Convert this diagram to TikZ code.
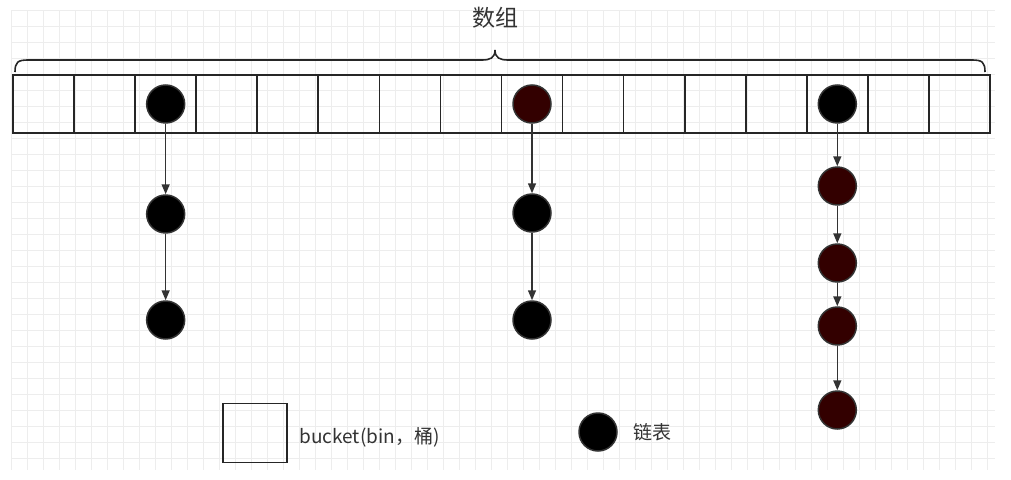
\documentclass[tikz,border=0pt]{standalone}
\usepackage{fontspec}
\setmainfont{Noto Sans CJK SC}
\usetikzlibrary{arrows.meta}
\definecolor{dred}{HTML}{330000}
\begin{document}
\begin{tikzpicture}[x=1pt,y=-1pt,
  cellbox/.style={draw=black!85,line width=1.7pt,minimum width=61.06pt,minimum height=58pt,inner sep=0pt},
  blk/.style={circle,draw=black!80,line width=1.5pt,fill=black,minimum size=38pt,inner sep=0pt},
  red/.style={blk,fill=dred},
  arr/.style={draw=black!80,line width=1.5pt,-{Triangle[length=10pt,width=8pt]}},
  lbl/.style={text=black!80,font=\fontsize{19pt}{22pt}\selectfont}]
\useasboundingbox (0,0) rectangle (1011,479);
\fill[white] (0,0) rectangle (1011,479);
\foreach \x in {11,27,...,995}{\draw[black!7,line width=0.7pt] (\x,10) -- (\x,470);}
\foreach \y in {10,26,...,470}{\draw[black!7,line width=0.7pt] (11,\y) -- (995,\y);}
\foreach \i in {0,...,15}{\node[cellbox] (c\i) at ({13+61.06*(\i+0.5)},104) {};}
\draw[black!85,line width=1.6pt] (15,72) .. controls (15,62) and (18,60) .. (28,60) -- (482,60) .. controls (490,60) and (495,58) .. (495,50)
  .. controls (495,58) and (500,60) .. (508,60) -- (972,60) .. controls (982,60) and (985,62) .. (985,72);
\node[lbl,font=\fontsize{23pt}{26pt}\selectfont] (t) at (495,18) {数组};
\node[blk] (a0) at (c2) {};
\node[red] (b0) at (c8) {};
\node[blk] (d0) at (c13) {};
\node[blk] (a1) at (c2 |- 0,214) {};
\node[blk] (a2) at (c2 |- 0,320) {};
\node[blk] (b1) at (c8 |- 0,213) {};
\node[blk] (b2) at (c8 |- 0,320) {};
\node[red] (d1) at (c13 |- 0,186) {};
\node[red] (d2) at (c13 |- 0,263) {};
\node[red] (d3) at (c13 |- 0,326) {};
\node[red] (d4) at (c13 |- 0,410) {};
\draw[arr] (a0) -- (a1); \draw[arr] (a1) -- (a2);
\draw[arr] (b0) -- (b1); \draw[arr] (b1) -- (b2);
\draw[arr] (d0) -- (d1); \draw[arr] (d1) -- (d2); \draw[arr] (d2) -- (d3); \draw[arr] (d3) -- (d4);
\node[cellbox,minimum width=64pt,minimum height=59pt] (lb) at (255,433) {};
\node[lbl,anchor=west] (lt) at (296,437) {bucket(bin，桶)};
\node[blk] (lc) at (598,432) {};
\node[lbl,anchor=west] (lt2) at (630,432) {链表};
\end{tikzpicture}
\end{document}
